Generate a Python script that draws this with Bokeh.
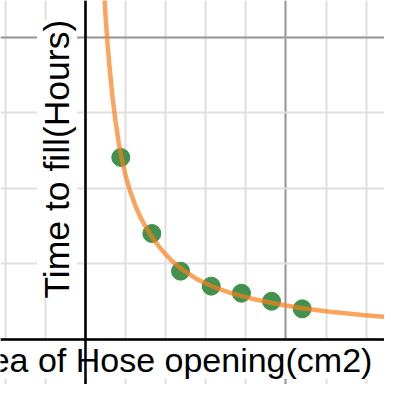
import math

from bokeh.plotting import figure
from bokeh.models import Range1d, SingleIntervalTicker, Span, Label
from bokeh.embed import file_html
from bokeh.resources import INLINE

# hose opening area (cm2) and time to fill (hours)
area = [0.176, 0.331, 0.474, 0.627, 0.778, 0.928, 1.081]
hours = [12.04, 7.01, 4.52, 3.53, 3.06, 2.53, 2.03]

# fitted curve, points
curve_area = [0.09, 0.10, 0.11, 0.12, 0.135, 0.15, 0.165, 0.18, 0.20, 0.22,
              0.25, 0.28, 0.31, 0.34, 0.38, 0.43, 0.49, 0.56, 0.64, 0.73,
              0.83, 0.95, 1.08, 1.22, 1.38, 1.55]
curve_hours = [23.67, 21.4, 19.55, 18.0, 16.0, 14.4, 13.09, 12.0, 10.85, 9.91,
               8.8, 7.93, 7.23, 6.62, 5.92, 5.21, 4.55, 3.96, 3.47, 3.05,
               2.70, 2.36, 2.07, 1.84, 1.62, 1.45]

x_title = "Area of Hose opening(cm2)"
y_title = "Time to fill(Hours)"

FONT = "Liberation Sans"

p = figure(width=384, height=384, output_backend="svg", toolbar_location=None,
           x_axis_location=None, y_axis_location=None,
           x_range=Range1d(-0.4239, 1.4913), y_range=Range1d(-2.976, 22.42),
           min_border=0, outline_line_color=None)

p.xgrid.ticker = SingleIntervalTicker(interval=1, num_minor_ticks=5)
p.ygrid.ticker = SingleIntervalTicker(interval=20, num_minor_ticks=4)
for g in (p.xgrid, p.ygrid):
    g.grid_line_color = "#999999"
    g.grid_line_width = 2
    g.minor_grid_line_color = "#dfdfdf"
    g.minor_grid_line_width = 2

p.scatter(area, hours, size=18, color="#388c46", alpha=0.95)
p.line(curve_area, curve_hours, line_color="#fa7e19", line_width=4.5, line_alpha=0.7)

# axis titles with white backing, like the original labels
p.add_layout(Label(x=1.431, y=-1.344, text=x_title, text_align="right",
                   text_baseline="alphabetic", text_font=FONT, text_font_size="34px",
                   text_color="black", background_fill_color="white"))
p.add_layout(Label(x=-0.142, y=2.71, text=y_title, angle=math.pi / 2,
                   text_align="left", text_baseline="alphabetic", text_font=FONT,
                   text_font_size="35.5px", text_color="black",
                   background_fill_color="white"))

# axes through the origin
p.add_layout(Span(location=0, dimension="height", line_color="black", line_width=2.5))
p.add_layout(Span(location=0, dimension="width", line_color="black", line_width=2.5))

open("out.html", "w").write(file_html(p, INLINE))
